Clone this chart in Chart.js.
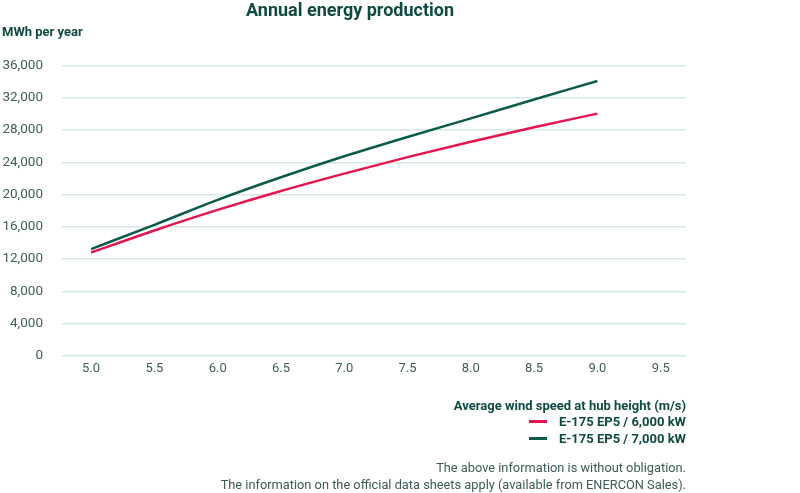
<!DOCTYPE html>
<html>
<head>
<meta charset="utf-8">
<script src="https://cdn.jsdelivr.net/npm/chart.js@4"></script>
<style>
  body { margin: 0; background: #fff; font-family: Roboto, "Noto Sans", sans-serif; }
  #wrap { position: relative; width: 800px; height: 493px; }
  #legend { position: absolute; right: 114px; top: 413px; color: #0e4a41; font-weight: bold; font-size: 13px; }
  #legend div { display: flex; align-items: center; justify-content: flex-end; height: 17px; }
  #legend span.swatch { display: inline-block; width: 18px; height: 2.5px; margin-right: 12px; }
  #note { position: absolute; right: 114px; top: 459px; color: #3d5a56; font-size: 12.8px; text-align: right; line-height: 17px; }
</style>
</head>
<body>
<div id="wrap">
  <canvas id="myChart" width="800" height="493"></canvas>
  <div id="legend"></div>
  <div id="note">The above information is without obligation.<br>The information on the official data sheets apply (available from ENERCON Sales).</div>
</div>
<script>
// wind speed (m/s)
const windSpeeds = [5.0, 5.5, 6.0, 6.5, 7.0, 7.5, 8.0, 8.5, 9.0];
// MWh per year
const ep5_6000 = [12820, 15550, 18100, 20450, 22600, 24650, 26550, 28350, 30040];
const ep5_7000 = [13240, 16250, 19350, 22150, 24750, 27150, 29450, 31800, 34090];
const seriesNames = ['E-175 EP5 / 6,000 kW', 'E-175 EP5 / 7,000 kW'];
const seriesColors = ['#e5164f', '#0b5a4b'];

const textDark = '#0e4a41';
const tickColor = '#3d5f5a';
const gridColor = '#d6e8e3';

const toPoints = (ys) => windSpeeds.map((x, i) => ({ x: x, y: ys[i] }));

// "MWh per year" label above the y axis
const unitLabel = {
  id: 'unitLabel',
  afterDraw(chart) {
    const ctx = chart.ctx;
    ctx.save();
    ctx.font = 'bold 13px Roboto';
    ctx.fillStyle = textDark;
    ctx.textAlign = 'left';
    ctx.textBaseline = 'middle';
    ctx.fillText('MWh per year', 2, 33);
    ctx.restore();
  }
};

const ctx = document.getElementById('myChart');

const chart = new Chart(ctx, {
  type: 'line',
  data: {
    datasets: [
      {
        label: seriesNames[0],
        data: toPoints(ep5_6000),
        borderColor: seriesColors[0],
        backgroundColor: seriesColors[0],
        borderWidth: 2.5,
        pointRadius: 0,
        cubicInterpolationMode: 'monotone'
      },
      {
        label: seriesNames[1],
        data: toPoints(ep5_7000),
        borderColor: seriesColors[1],
        backgroundColor: seriesColors[1],
        borderWidth: 2.5,
        pointRadius: 0,
        cubicInterpolationMode: 'monotone'
      }
    ]
  },
  options: {
    responsive: false,
    animation: false,
    layout: { padding: { left: 0, right: 100, top: 0, bottom: 78 } },
    plugins: {
      legend: { display: false },
      tooltip: { enabled: false },
      title: {
        display: true,
        text: 'Annual energy production',
        color: textDark,
        font: { family: 'Roboto', size: 18, weight: 'bold' },
        padding: { top: 1, bottom: 43 }
      }
    },
    scales: {
      x: {
        type: 'linear',
        min: 4.77,
        max: 9.7,
        grid: { display: false, drawTicks: false },
        border: { display: false },
        ticks: {
          stepSize: 0.5,
          includeBounds: false,
          maxRotation: 0,
          padding: 5,
          color: tickColor,
          font: { family: 'Roboto', size: 13 },
          callback: (v) => v.toFixed(1)
        },
        title: {
          display: true,
          text: 'Average wind speed at hub height (m/s)',
          align: 'end',
          color: textDark,
          font: { family: 'Roboto', size: 13, weight: 'bold' },
          padding: { top: 18, bottom: 0 }
        }
      },
      y: {
        min: 0,
        max: 36000,
        afterFit: (scale) => { scale.width = 62; },
        grid: { color: gridColor, lineWidth: 1.5, drawTicks: false },
        border: { display: false },
        ticks: {
          stepSize: 4000,
          padding: 19,
          color: tickColor,
          font: { family: 'Roboto', size: 13.5 },
          callback: (v) => v.toLocaleString('en-US')
        }
      },
      // empty right axis, only keeps the plot 14px short of the title box
      yRight: {
        position: 'right',
        min: 0,
        max: 36000,
        afterFit: (scale) => { scale.width = 14; },
        grid: { display: false, drawTicks: false },
        border: { display: false },
        ticks: { display: false }
      }
    }
  },
  plugins: [unitLabel]
});

// legend stacked on the right, built from the datasets
const legend = document.getElementById('legend');
chart.data.datasets.forEach(ds => {
  const row = document.createElement('div');
  const swatch = document.createElement('span');
  swatch.className = 'swatch';
  swatch.style.background = ds.borderColor;
  row.appendChild(swatch);
  row.appendChild(document.createTextNode(ds.label));
  legend.appendChild(row);
});
</script>
</body>
</html>
